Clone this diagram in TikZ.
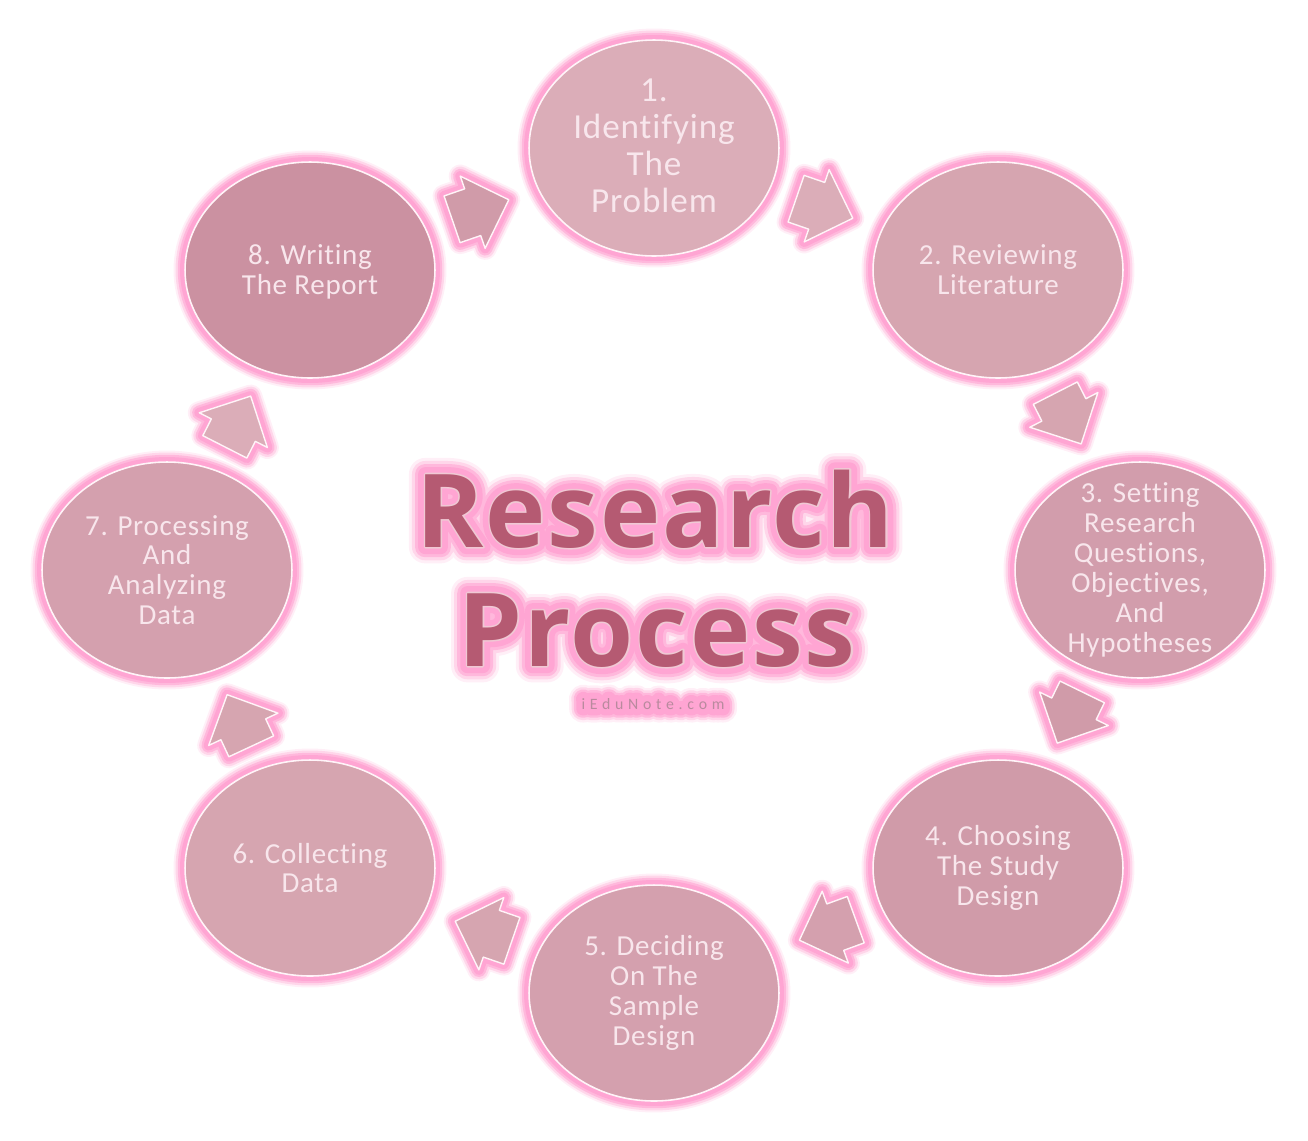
\documentclass[tikz,border=0pt]{standalone}
\usepackage{fontspec}
\setmainfont[LetterSpace=2.5,Ligatures=NoCommon]{Carlito}
\newfontfamily\titlefont[LetterSpace=2]{Open Sans}
\newfontfamily\notefont[LetterSpace=30]{Carlito}
\usetikzlibrary{shapes.geometric,shapes.arrows,calc}

\definecolor{glowA}{HTML}{FFEFF7}
\definecolor{glowB}{HTML}{FFD6EA}
\definecolor{glowC}{HTML}{FFB8DC}
\definecolor{glowD}{HTML}{FFA5D3}
\definecolor{stepedge}{HTML}{FFF4F8}
\definecolor{steptext}{HTML}{F8E6EC}
\definecolor{titleedge}{HTML}{F0C8D4}
\definecolor{titlerose}{HTML}{B55A72}
\definecolor{notetext}{HTML}{B98A9E}
% Fills, from pale to deep
\definecolor{roseA}{HTML}{DBADB8}
\definecolor{roseB}{HTML}{D6A5B0}
\definecolor{roseC}{HTML}{D4A0AE}
\definecolor{roseD}{HTML}{D29DAC}
\definecolor{roseE}{HTML}{D09BA9}
\definecolor{roseF}{HTML}{CB91A1}

\tikzset{
  halo/.style={
    preaction={draw=glowA,line width=.46cm,line join=round},
    preaction={draw=glowB,line width=.38cm,line join=round},
    preaction={draw=glowC,line width=.29cm,line join=round},
    preaction={draw=glowD,line width=.20cm,line join=round}},
  stepnode/.style={ellipse,halo,draw=stepedge,line width=.9pt,inner sep=0pt,outer sep=0pt,
    minimum width=5cm,minimum height=4.32cm},
  steplabel/.style={align=center,text=steptext,font=\fontsize{16.5}{17}\selectfont},
  flowarrow/.style={single arrow,halo,draw=stepedge,line width=.8pt,line join=round,
    inner ysep=.48cm,inner xsep=0pt,outer sep=0pt,
    single arrow head extend=.27cm,minimum height=1.2cm,rotate=#1,xshift=-.28cm},
  flowshort/.style={flowarrow=#1,minimum height=1.14cm}
}

% Title text with a soft edge made of fattened copies
\newcommand{\glowtext}[5]{%
  \foreach \w/\c in {#3}
    \node[anchor=base,font=#4\addfontfeature{FakeBold=\w},text=\c,inner sep=0pt] (#1\w) at #2 {\pgfsetroundjoin #5};
}

\begin{document}
\begin{tikzpicture}[x=.02cm,y=-.02cm]
  \useasboundingbox (0,0) rectangle (1308,1140);

  % Steps around the ring
  \node[stepnode,fill=roseA] (step1) at (654,148) {};
  \node[stepnode,fill=roseB] (step2) at (998,270) {};
  \node[stepnode,fill=roseD] (step3) at (1140,570) {};
  \node[stepnode,fill=roseE] (step4) at (998,868) {};
  \node[stepnode,fill=roseC] (step5) at (654,993) {};
  \node[stepnode,fill=roseB] (step6) at (310,868) {};
  \node[stepnode,fill=roseC] (step7) at (167,570) {};
  \node[stepnode,fill=roseF] (step8) at (310,270) {};

  % Labels of the steps
  \node[steplabel,font=\fontsize{20}{21}\selectfont] (label1) at (654,146) {1.\\Identifying\\The\\Problem};
  \node[steplabel] (label2) at (step2) {2. Reviewing\\Literature};
  \node[steplabel] (label3) at (step3) {3. Setting\\Research\\Questions,\\Objectives,\\And\\Hypotheses};
  \node[steplabel] (label4) at (step4) {4. Choosing\\The Study\\Design};
  \node[steplabel] (label5) at (step5) {5. Deciding\\On The\\Sample\\Design};
  \node[steplabel] (label6) at (step6) {6. Collecting\\Data};
  \node[steplabel] (label7) at (step7) {7. Processing\\And\\Analyzing\\Data};
  \node[steplabel] (label8) at (310,272) {8. Writing\\The Report};

  % Block arrows half way between the steps
  \node[flowarrow=-19,fill=roseA] (flow12) at ($(step1)!.5!(step2)$) {};
  \node[flowshort=-63,fill=roseB] (flow23) at ($(step2)!.5!(step3)$) {};
  \node[flowshort=-116,fill=roseE] (flow34) at ($(step3)!.5!(step4)$) {};
  \node[flowarrow=-160,fill=roseC] (flow45) at ($(step4)!.5!(step5)$) {};
  \node[flowarrow=161,fill=roseB] (flow56) at ($(step5)!.5!(step6)$) {};
  \node[flowshort=115,fill=roseB] (flow67) at ($(step6)!.5!(step7)$) {};
  \node[flowshort=63,fill=roseA] (flow78) at ($(step7)!.5!(step8)$) {};
  \node[flowarrow=19,fill=roseE] (flow81) at ($(step8)!.5!(step1)$) {};

  % Title in the middle
  \glowtext{haloR}{(655,547)}{32/glowA,26/glowB,20/glowC,14/glowD,3/titleedge}{\titlefont\bfseries\fontsize{58}{60}\selectfont}{Research}
  \node[anchor=base,font=\titlefont\bfseries\fontsize{58}{60}\selectfont,text=titlerose,inner sep=0pt] (titleA) at (655,547) {Research};
  \glowtext{haloP}{(657,666)}{32/glowA,26/glowB,20/glowC,14/glowD,3/titleedge}{\titlefont\bfseries\fontsize{58}{60}\selectfont}{Process}
  \node[anchor=base,font=\titlefont\bfseries\fontsize{58}{60}\selectfont,text=titlerose,inner sep=0pt] (titleB) at (657,666) {Process};

  \glowtext{haloN}{(653,709)}{170/glowA,140/glowB,110/glowC,80/glowD}{\notefont\fontsize{9}{11}\selectfont}{iEduNote.com}
  \node[anchor=base,font=\notefont\fontsize{9}{11}\selectfont,text=notetext,inner sep=0pt] (note) at (653,709) {iEduNote.com};
\end{tikzpicture}
\end{document}
